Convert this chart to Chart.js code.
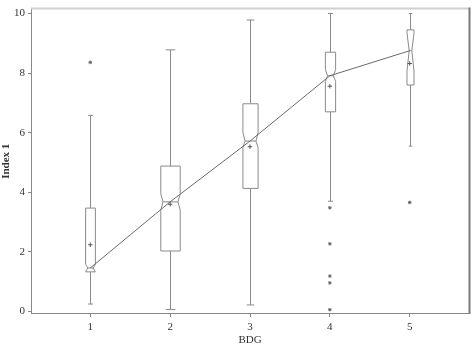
<!DOCTYPE html>
<html>
<head>
<meta charset="utf-8">
<script src="https://cdn.jsdelivr.net/npm/chart.js@4.4.0/dist/chart.umd.min.js"></script>
<style>
html,body{margin:0;padding:0;background:#fff;}
canvas{display:block;}
</style>
</head>
<body>
<canvas id="c" width="474" height="346"></canvas>
<script>
// ---- data ----
const categories = [1, 2, 3, 4, 5];
const q1 = [1.33, 2.03, 4.13, 6.70, 7.60];
const medians = [1.46, 3.68, 5.72, 7.91, 8.75];
const q3 = [3.47, 4.88, 6.97, 8.70, 9.45];
const whiskerLow = [0.25, 0.07, 0.22, 3.70, 5.55];
const whiskerHigh = [6.58, 8.78, 9.78, 10.0, 10.0];
const notchLow = [1.33, 3.40, 5.50, 7.72, 8.07];
const notchHigh = [1.58, 3.95, 6.00, 8.12, 9.35];
const means = [2.24, 3.60, 5.53, 7.56, 8.32];
const outlierCat = [1, 4, 4, 4, 4, 4, 5];
const outlierVal = [8.36, 3.48, 2.27, 1.19, 0.96, 0.06, 3.66];
const yTicks = [0, 2, 4, 6, 8, 10];

// ---- style ----
const boxWidthUnits = [0.122, 0.243, 0.19, 0.128, 0.088];
const FONT = "'Liberation Serif', 'DejaVu Serif', serif";
const BOX_COLOR = '#8a8a8a';

const boxPlugin = {
  id: 'boxes',
  beforeDatasetsDraw(chart) {
    const ctx = chart.ctx, xs = chart.scales.x, ys = chart.scales.y;
    ctx.save();
    ctx.strokeStyle = BOX_COLOR;
    ctx.lineWidth = 1;
    categories.forEach((c, i) => {
      const cx = Math.round(xs.getPixelForValue(c)) + 0.5;
      const hw = (xs.getPixelForValue(c + boxWidthUnits[i] / 2) - xs.getPixelForValue(c - boxWidthUnits[i] / 2)) / 2;
      const ind = Math.min(2.2, hw * 0.7);
      const yq1 = ys.getPixelForValue(q1[i]);
      const yq3 = ys.getPixelForValue(q3[i]);
      const ym = ys.getPixelForValue(medians[i]);
      const ynl = ys.getPixelForValue(notchLow[i]);
      const ynh = ys.getPixelForValue(notchHigh[i]);
      const ywl = ys.getPixelForValue(whiskerLow[i]);
      const ywh = ys.getPixelForValue(whiskerHigh[i]);
      const capHw = hw * 0.5;
      // whiskers
      ctx.beginPath();
      ctx.moveTo(cx, yq3); ctx.lineTo(cx, ywh);
      ctx.moveTo(cx - capHw, ywh); ctx.lineTo(cx + capHw, ywh);
      ctx.moveTo(cx, yq1); ctx.lineTo(cx, ywl);
      ctx.moveTo(cx - capHw, ywl); ctx.lineTo(cx + capHw, ywl);
      ctx.stroke();
      // notched box
      const l = cx - hw, r = cx + hw;
      ctx.beginPath();
      ctx.moveTo(l, yq3);
      ctx.lineTo(r, yq3);
      ctx.lineTo(r, ynh);
      ctx.lineTo(r - ind, ym);
      ctx.lineTo(r, ynl);
      ctx.lineTo(r, yq1);
      ctx.lineTo(l, yq1);
      ctx.lineTo(l, ynl);
      ctx.lineTo(l + ind, ym);
      ctx.lineTo(l, ynh);
      ctx.closePath();
      ctx.fillStyle = '#fff';
      ctx.fill();
      ctx.stroke();
      // median line
      ctx.beginPath();
      ctx.moveTo(l + ind, ym); ctx.lineTo(r - ind, ym);
      ctx.stroke();
    });
    ctx.restore();
  },
  afterDraw(chart) {
    const ctx = chart.ctx, a = chart.chartArea;
    ctx.save();
    ctx.strokeStyle = '#d0d0d0';
    ctx.lineWidth = 2;
    ctx.beginPath(); ctx.moveTo(a.left, a.top - 1); ctx.lineTo(a.right, a.top - 1); ctx.stroke();
    ctx.strokeStyle = '#7a7a7a';
    ctx.beginPath(); ctx.moveTo(a.right + 0.5, a.top - 2); ctx.lineTo(a.right + 0.5, a.bottom + 1); ctx.stroke();
    ctx.restore();
  }
};

new Chart(document.getElementById('c'), {
  type: 'scatter',
  data: {
    datasets: [
      {
        type: 'line',
        label: 'Median',
        data: categories.map((c, i) => ({ x: c, y: medians[i] })),
        borderColor: '#6a6a6a',
        borderWidth: 1,
        pointRadius: 0,
        fill: false,
        tension: 0
      },
      {
        label: 'Mean',
        data: categories.map((c, i) => ({ x: c, y: means[i] })),
        pointStyle: 'cross',
        pointRadius: 2.2,
        borderColor: '#555',
        borderWidth: 1
      },
      {
        label: 'Outliers',
        data: outlierCat.map((c, i) => ({ x: c, y: outlierVal[i] })),
        pointStyle: 'star',
        pointRadius: 1.8,
        borderColor: '#666',
        backgroundColor: '#666',
        borderWidth: 1
      }
    ]
  },
  options: {
    responsive: false,
    animation: false,
    layout: { padding: { top: 3, right: 2, left: 0, bottom: 0 } },
    plugins: { legend: { display: false }, tooltip: { enabled: false } },
    scales: {
      x: {
        type: 'linear',
        min: 0.2575,
        max: 5.7425,
        afterBuildTicks: s => { s.ticks = categories.map(v => ({ value: v })); },
        afterFit: s => { s.height = 33; },
        grid: { drawOnChartArea: false, drawTicks: true, tickLength: 4, color: '#888' },
        border: { display: true, color: '#888', width: 1 },
        ticks: { color: '#333', font: { family: FONT, size: 11 }, padding: 4, callback: v => String(v) },
        title: { display: true, text: 'BDG', color: '#333', font: { family: FONT, size: 11, lineHeight: 1 }, padding: { top: 0, bottom: 0 } }
      },
      y: {
        min: -0.05,
        max: 10.13,
        afterBuildTicks: s => { s.ticks = yTicks.map(v => ({ value: v })); },
        afterFit: s => { s.width = 31; },
        grid: { drawOnChartArea: false, drawTicks: true, tickLength: 3, color: '#888' },
        border: { display: true, color: '#888', width: 1 },
        ticks: { color: '#333', font: { family: FONT, size: 11 }, padding: 3, callback: v => String(v) },
        title: { display: true, text: 'Index 1', color: '#333', font: { family: FONT, size: 11, weight: 'bold' }, padding: { top: 0, bottom: 0 } }
      }
    }
  },
  plugins: [boxPlugin]
});
</script>
</body>
</html>
